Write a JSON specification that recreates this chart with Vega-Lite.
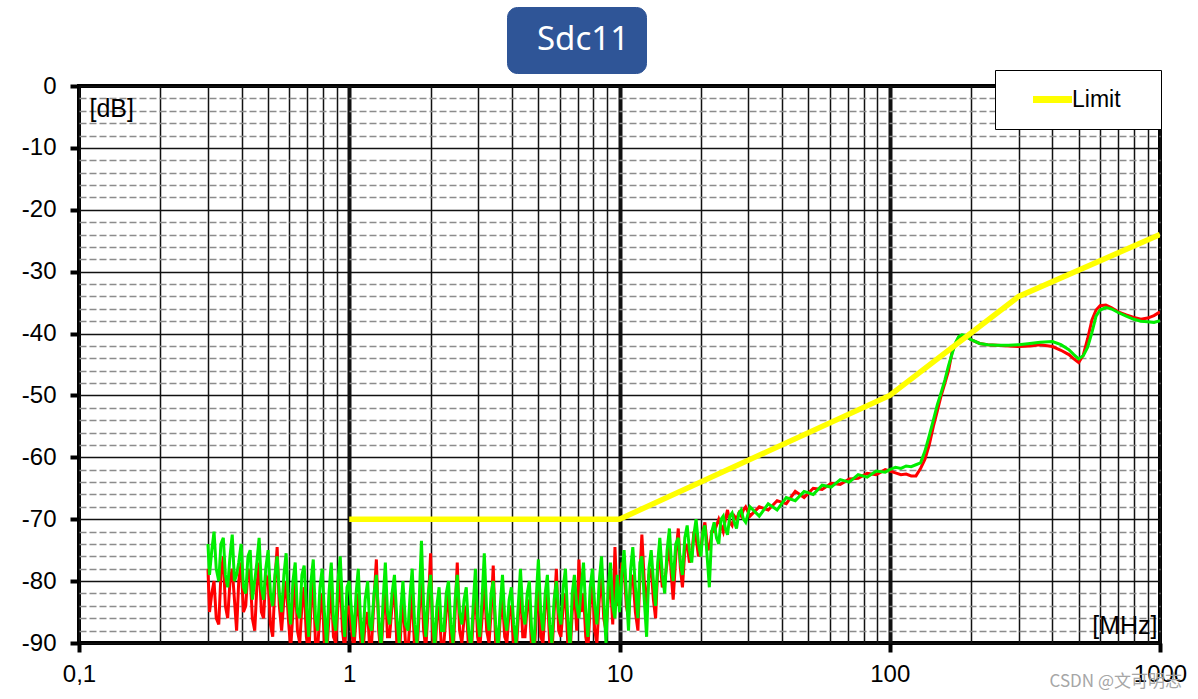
{
  "$schema": "https://vega.github.io/schema/vega-lite/v6.json",
  "width": 1081,
  "height": 557,
  "autosize": {"type": "none"},
  "padding": {"left": 79, "top": 86, "right": 38, "bottom": 56},
  "background": "white",
  "title": {
    "text": "CSDN @文可明志",
    "orient": "bottom",
    "anchor": "end",
    "frame": "group",
    "font": "Noto Sans CJK SC",
    "fontSize": 17,
    "fontWeight": "normal",
    "color": "#a6a6a6",
    "dx": 22,
    "offset": -12
  },
  "datasets": {
    "trace": [
      {"f": 0.3, "r": -78, "g": -74},
      {"f": 0.304, "r": -85, "g": -79},
      {"f": 0.31, "r": -82, "g": -75},
      {"f": 0.316, "r": -80, "g": -72},
      {"f": 0.322, "r": -86, "g": -78},
      {"f": 0.329, "r": -87, "g": -80},
      {"f": 0.335, "r": -79, "g": -74},
      {"f": 0.342, "r": -76, "g": -73},
      {"f": 0.348, "r": -84, "g": -79},
      {"f": 0.355, "r": -86, "g": -81},
      {"f": 0.362, "r": -80, "g": -76},
      {"f": 0.369, "r": -78, "g": -72.5},
      {"f": 0.376, "r": -83, "g": -80},
      {"f": 0.383, "r": -88, "g": -79},
      {"f": 0.39, "r": -80, "g": -77},
      {"f": 0.398, "r": -77, "g": -74},
      {"f": 0.406, "r": -85, "g": -81},
      {"f": 0.414, "r": -84, "g": -82},
      {"f": 0.422, "r": -78, "g": -76},
      {"f": 0.43, "r": -79, "g": -75},
      {"f": 0.438, "r": -86, "g": -83},
      {"f": 0.447, "r": -88, "g": -80},
      {"f": 0.455, "r": -81, "g": -77},
      {"f": 0.464, "r": -77, "g": -73},
      {"f": 0.473, "r": -85, "g": -81},
      {"f": 0.482, "r": -86, "g": -83},
      {"f": 0.491, "r": -79, "g": -78},
      {"f": 0.501, "r": -80, "g": -75},
      {"f": 0.511, "r": -87, "g": -82},
      {"f": 0.521, "r": -89, "g": -84},
      {"f": 0.531, "r": -80, "g": -79},
      {"f": 0.541, "r": -74.5, "g": -76},
      {"f": 0.551, "r": -84, "g": -82},
      {"f": 0.562, "r": -88, "g": -85},
      {"f": 0.573, "r": -83, "g": -79},
      {"f": 0.584, "r": -80, "g": -75.5},
      {"f": 0.595, "r": -86, "g": -83},
      {"f": 0.607, "r": -91, "g": -87},
      {"f": 0.619, "r": -85, "g": -80},
      {"f": 0.631, "r": -79, "g": -77},
      {"f": 0.643, "r": -88, "g": -85},
      {"f": 0.656, "r": -90, "g": -86},
      {"f": 0.668, "r": -84, "g": -79},
      {"f": 0.681, "r": -81, "g": -77.5},
      {"f": 0.694, "r": -89, "g": -84},
      {"f": 0.708, "r": -92, "g": -89},
      {"f": 0.722, "r": -84, "g": -80},
      {"f": 0.736, "r": -80, "g": -76.5},
      {"f": 0.75, "r": -90, "g": -86},
      {"f": 0.764, "r": -91, "g": -88},
      {"f": 0.779, "r": -85, "g": -81},
      {"f": 0.794, "r": -82, "g": -78},
      {"f": 0.809, "r": -90, "g": -85},
      {"f": 0.825, "r": -92, "g": -90.5},
      {"f": 0.841, "r": -86, "g": -82},
      {"f": 0.858, "r": -81, "g": -77},
      {"f": 0.874, "r": -89, "g": -86},
      {"f": 0.891, "r": -90, "g": -88},
      {"f": 0.908, "r": -84, "g": -80},
      {"f": 0.926, "r": -79, "g": -76},
      {"f": 0.944, "r": -88, "g": -84},
      {"f": 0.962, "r": -91, "g": -89},
      {"f": 0.981, "r": -85, "g": -81},
      {"f": 1.0, "r": -84, "g": -80},
      {"f": 1.02, "r": -88, "g": -85},
      {"f": 1.04, "r": -91, "g": -89},
      {"f": 1.06, "r": -86, "g": -82},
      {"f": 1.08, "r": -82, "g": -78},
      {"f": 1.1, "r": -89, "g": -86},
      {"f": 1.12, "r": -92, "g": -90},
      {"f": 1.145, "r": -87, "g": -83},
      {"f": 1.17, "r": -85, "g": -80},
      {"f": 1.19, "r": -91, "g": -87},
      {"f": 1.21, "r": -90, "g": -88},
      {"f": 1.235, "r": -83, "g": -82},
      {"f": 1.26, "r": -76.5, "g": -79},
      {"f": 1.285, "r": -88, "g": -86},
      {"f": 1.31, "r": -92, "g": -91},
      {"f": 1.335, "r": -86, "g": -83},
      {"f": 1.36, "r": -80, "g": -77},
      {"f": 1.385, "r": -89, "g": -85},
      {"f": 1.41, "r": -89, "g": -87},
      {"f": 1.44, "r": -84, "g": -82},
      {"f": 1.47, "r": -81, "g": -79},
      {"f": 1.5, "r": -90, "g": -86},
      {"f": 1.53, "r": -93, "g": -90},
      {"f": 1.555, "r": -87, "g": -84},
      {"f": 1.58, "r": -83, "g": -80},
      {"f": 1.615, "r": -90, "g": -87},
      {"f": 1.65, "r": -91, "g": -88},
      {"f": 1.68, "r": -86, "g": -82},
      {"f": 1.71, "r": -82, "g": -78},
      {"f": 1.745, "r": -91, "g": -87},
      {"f": 1.78, "r": -92, "g": -90},
      {"f": 1.815, "r": -85, "g": -83},
      {"f": 1.85, "r": -79, "g": -73.5},
      {"f": 1.885, "r": -88, "g": -84},
      {"f": 1.92, "r": -91, "g": -89},
      {"f": 1.96, "r": -84, "g": -82},
      {"f": 2.0, "r": -75.5, "g": -79},
      {"f": 2.035, "r": -89, "g": -86},
      {"f": 2.07, "r": -93, "g": -91},
      {"f": 2.11, "r": -86, "g": -84},
      {"f": 2.15, "r": -84, "g": -81},
      {"f": 2.195, "r": -91, "g": -88},
      {"f": 2.24, "r": -90, "g": -88},
      {"f": 2.285, "r": -85, "g": -82},
      {"f": 2.33, "r": -82, "g": -80},
      {"f": 2.375, "r": -90, "g": -87},
      {"f": 2.42, "r": -92, "g": -90},
      {"f": 2.465, "r": -85, "g": -83},
      {"f": 2.51, "r": -77, "g": -79},
      {"f": 2.56, "r": -88, "g": -85},
      {"f": 2.61, "r": -90, "g": -87},
      {"f": 2.66, "r": -86, "g": -83},
      {"f": 2.71, "r": -84, "g": -81},
      {"f": 2.765, "r": -91, "g": -88},
      {"f": 2.82, "r": -93, "g": -91},
      {"f": 2.875, "r": -86, "g": -84},
      {"f": 2.93, "r": -81, "g": -78},
      {"f": 2.985, "r": -89, "g": -86},
      {"f": 3.04, "r": -91, "g": -89},
      {"f": 3.1, "r": -86, "g": -83},
      {"f": 3.16, "r": -80, "g": -75.5},
      {"f": 3.225, "r": -88, "g": -85},
      {"f": 3.29, "r": -90, "g": -88},
      {"f": 3.35, "r": -85, "g": -82},
      {"f": 3.41, "r": -77.5, "g": -80},
      {"f": 3.48, "r": -90, "g": -87},
      {"f": 3.55, "r": -92, "g": -91},
      {"f": 3.62, "r": -86, "g": -84},
      {"f": 3.69, "r": -83, "g": -79},
      {"f": 3.76, "r": -89, "g": -86},
      {"f": 3.83, "r": -90, "g": -88},
      {"f": 3.905, "r": -85, "g": -83},
      {"f": 3.98, "r": -84, "g": -81},
      {"f": 4.06, "r": -91, "g": -87},
      {"f": 4.14, "r": -92, "g": -90},
      {"f": 4.22, "r": -86, "g": -84},
      {"f": 4.3, "r": -81, "g": -78},
      {"f": 4.385, "r": -89, "g": -85},
      {"f": 4.47, "r": -89, "g": -87},
      {"f": 4.555, "r": -84, "g": -82},
      {"f": 4.64, "r": -83, "g": -80},
      {"f": 4.73, "r": -91, "g": -88},
      {"f": 4.82, "r": -93, "g": -91},
      {"f": 4.915, "r": -86, "g": -83},
      {"f": 5.01, "r": -80, "g": -76.5},
      {"f": 5.11, "r": -89, "g": -85},
      {"f": 5.21, "r": -90, "g": -88},
      {"f": 5.31, "r": -84, "g": -82},
      {"f": 5.41, "r": -82, "g": -79},
      {"f": 5.515, "r": -90, "g": -87},
      {"f": 5.62, "r": -92, "g": -90},
      {"f": 5.73, "r": -85, "g": -83},
      {"f": 5.84, "r": -78, "g": -80},
      {"f": 5.955, "r": -88, "g": -85},
      {"f": 6.07, "r": -89, "g": -87},
      {"f": 6.19, "r": -84, "g": -81},
      {"f": 6.31, "r": -82, "g": -78},
      {"f": 6.435, "r": -90, "g": -86},
      {"f": 6.56, "r": -92, "g": -91},
      {"f": 6.685, "r": -85, "g": -82},
      {"f": 6.81, "r": -81, "g": -79},
      {"f": 6.945, "r": -88, "g": -84},
      {"f": 7.08, "r": -76.5, "g": -86},
      {"f": 7.22, "r": -85, "g": -81},
      {"f": 7.36, "r": -82, "g": -77},
      {"f": 7.5, "r": -89, "g": -85},
      {"f": 7.64, "r": -91, "g": -89},
      {"f": 7.79, "r": -84, "g": -81},
      {"f": 7.94, "r": -80, "g": -78},
      {"f": 8.095, "r": -88, "g": -84},
      {"f": 8.25, "r": -90, "g": -87},
      {"f": 8.415, "r": -83, "g": -80},
      {"f": 8.58, "r": -79, "g": -76},
      {"f": 8.745, "r": -86, "g": -83},
      {"f": 8.91, "r": -88, "g": -90},
      {"f": 9.085, "r": -83, "g": -81},
      {"f": 9.26, "r": -80, "g": -77},
      {"f": 9.44, "r": -87, "g": -84},
      {"f": 9.62, "r": -74.5, "g": -86},
      {"f": 9.81, "r": -84, "g": -79},
      {"f": 10.0, "r": -82, "g": -85},
      {"f": 10.2, "r": -77, "g": -79},
      {"f": 10.4, "r": -78, "g": -75},
      {"f": 10.6, "r": -84, "g": -82},
      {"f": 10.8, "r": -86, "g": -88},
      {"f": 11.0, "r": -80, "g": -78},
      {"f": 11.2, "r": -79, "g": -74.5},
      {"f": 11.45, "r": -85, "g": -81},
      {"f": 11.7, "r": -88, "g": -86},
      {"f": 11.9, "r": -79, "g": -77},
      {"f": 12.1, "r": -72.5, "g": -76},
      {"f": 12.35, "r": -80, "g": -83},
      {"f": 12.6, "r": -84, "g": -89},
      {"f": 12.85, "r": -79, "g": -78},
      {"f": 13.1, "r": -78, "g": -75},
      {"f": 13.35, "r": -83, "g": -80},
      {"f": 13.6, "r": -86, "g": -84},
      {"f": 13.85, "r": -78, "g": -77},
      {"f": 14.1, "r": -76, "g": -73},
      {"f": 14.4, "r": -81, "g": -79},
      {"f": 14.7, "r": -80, "g": -82},
      {"f": 15.0, "r": -77, "g": -75},
      {"f": 15.3, "r": -74, "g": -71.5},
      {"f": 15.55, "r": -79, "g": -77},
      {"f": 15.8, "r": -83, "g": -80},
      {"f": 16.15, "r": -76, "g": -74},
      {"f": 16.5, "r": -71.5, "g": -73},
      {"f": 16.8, "r": -78, "g": -77},
      {"f": 17.1, "r": -81, "g": -79},
      {"f": 17.45, "r": -75, "g": -73},
      {"f": 17.8, "r": -74, "g": -71},
      {"f": 18.15, "r": -77, "g": -75},
      {"f": 18.5, "r": -76, "g": -77},
      {"f": 18.85, "r": -72, "g": -72.5},
      {"f": 19.2, "r": -73, "g": -70},
      {"f": 19.6, "r": -76, "g": -74},
      {"f": 20.0, "r": -75, "g": -76},
      {"f": 20.35, "r": -72, "g": -72},
      {"f": 20.7, "r": -70.5, "g": -71},
      {"f": 21.1, "r": -74, "g": -76},
      {"f": 21.5, "r": -75, "g": -81},
      {"f": 21.95, "r": -72, "g": -72},
      {"f": 22.4, "r": -72, "g": -70.5},
      {"f": 22.85, "r": -71, "g": -73},
      {"f": 23.3, "r": -70, "g": -74},
      {"f": 23.75, "r": -71, "g": -70},
      {"f": 24.2, "r": -72, "g": -69.5},
      {"f": 24.65, "r": -70, "g": -71.5},
      {"f": 25.1, "r": -68.5, "g": -72.5},
      {"f": 25.6, "r": -70.5, "g": -69.5},
      {"f": 26.1, "r": -71, "g": -69},
      {"f": 26.6, "r": -69.5, "g": -70.5},
      {"f": 27.1, "r": -70, "g": -71.5},
      {"f": 27.65, "r": -69, "g": -69},
      {"f": 28.2, "r": -69.5, "g": -68.5},
      {"f": 28.75, "r": -68.5, "g": -70},
      {"f": 29.3, "r": -68, "g": -70.5},
      {"f": 30.4, "r": -69.5, "g": -68},
      {"f": 32.9, "r": -68, "g": -69.5},
      {"f": 35.5, "r": -68.5, "g": -67.5},
      {"f": 38.3, "r": -67, "g": -68.5},
      {"f": 41.4, "r": -67.5, "g": -66.5},
      {"f": 44.7, "r": -65.5, "g": -67},
      {"f": 48.2, "r": -66.5, "g": -65.5},
      {"f": 52.1, "r": -65, "g": -66},
      {"f": 56.2, "r": -65.2, "g": -64.5},
      {"f": 60.7, "r": -64.2, "g": -64.8},
      {"f": 65.6, "r": -64.4, "g": -63.6},
      {"f": 70.8, "r": -63.5, "g": -64},
      {"f": 76.4, "r": -63.4, "g": -62.8},
      {"f": 82.5, "r": -62.6, "g": -63.2},
      {"f": 89.1, "r": -62.8, "g": -62.2},
      {"f": 96.2, "r": -62, "g": -62.4},
      {"f": 100, "r": -62.2, "g": -62},
      {"f": 105, "r": -62.5, "g": -61.6},
      {"f": 110, "r": -62.8, "g": -61.8},
      {"f": 115, "r": -62.7, "g": -61.4},
      {"f": 120, "r": -63, "g": -61.5},
      {"f": 125, "r": -63, "g": -61.2},
      {"f": 130, "r": -61.8, "g": -60.9},
      {"f": 135, "r": -60.3, "g": -59},
      {"f": 140, "r": -58, "g": -56.5},
      {"f": 145, "r": -55, "g": -54},
      {"f": 150, "r": -52.5, "g": -51.5},
      {"f": 155, "r": -50, "g": -49.5},
      {"f": 160, "r": -48, "g": -47.5},
      {"f": 165, "r": -46, "g": -45.2},
      {"f": 170, "r": -43, "g": -43.3},
      {"f": 175, "r": -41.7, "g": -41.5},
      {"f": 180, "r": -40.6, "g": -40.5},
      {"f": 185, "r": -40.3, "g": -40.2},
      {"f": 190, "r": -40.4, "g": -40.3},
      {"f": 200, "r": -41, "g": -41},
      {"f": 215, "r": -41.6, "g": -41.6},
      {"f": 230, "r": -41.8, "g": -41.8},
      {"f": 250, "r": -41.9, "g": -41.9},
      {"f": 275, "r": -42, "g": -41.9},
      {"f": 300, "r": -42.1, "g": -41.8},
      {"f": 330, "r": -42, "g": -41.6},
      {"f": 360, "r": -41.8, "g": -41.4},
      {"f": 400, "r": -42.1, "g": -41.3},
      {"f": 430, "r": -42.7, "g": -41.8},
      {"f": 460, "r": -43.4, "g": -42.6},
      {"f": 480, "r": -44.1, "g": -43.4},
      {"f": 500, "r": -44.7, "g": -44.1},
      {"f": 520, "r": -43.5, "g": -43.6},
      {"f": 540, "r": -40.8, "g": -42.2},
      {"f": 560, "r": -37.8, "g": -39.8},
      {"f": 580, "r": -36.2, "g": -37.2},
      {"f": 600, "r": -35.5, "g": -36.2},
      {"f": 630, "r": -35.4, "g": -35.8},
      {"f": 660, "r": -35.8, "g": -36},
      {"f": 700, "r": -36.5, "g": -36.6},
      {"f": 750, "r": -37, "g": -37.2},
      {"f": 800, "r": -37.4, "g": -37.7},
      {"f": 850, "r": -37.7, "g": -38},
      {"f": 900, "r": -37.5, "g": -38.1},
      {"f": 950, "r": -37.1, "g": -38.2},
      {"f": 1000, "r": -36.5, "g": -37.9}
    ],
    "limit": [
      {"f": 1, "v": -70, "series": "Limit"},
      {"f": 10, "v": -70, "series": "Limit"},
      {"f": 100, "v": -50, "series": "Limit"},
      {"f": 300, "v": -34, "series": "Limit"},
      {"f": 1000, "v": -24, "series": "Limit"}
    ]
  },
  "layer": [
    {
      "data": {"name": "trace"},
      "mark": {"type": "line", "color": "#ff0000", "strokeWidth": 3, "clip": true},
      "encoding": {
        "x": {
          "field": "f",
          "type": "quantitative",
          "scale": {"type": "log", "domain": [0.1, 1000], "nice": false},
          "axis": {
            "values": [0.1, 0.2, 0.3, 0.4, 0.5, 0.6, 0.7, 0.8, 0.9, 1, 2, 3, 4, 5, 6, 7, 8, 9, 10, 20, 30, 40, 50, 60, 70, 80, 90, 100, 200, 300, 400, 500, 600, 700, 800, 900, 1000],
            "tickCount": 200,
            "domain": false,
            "grid": true,
            "gridColor": "#111111",
            "gridWidth": {"condition": {"test": "indexof([1,10,100], datum.value) >= 0", "value": 4}, "value": 1.5},
            "tickColor": "black",
            "tickWidth": 4,
            "tickSize": 9,
            "tickOpacity": {"condition": {"test": "indexof([0.1,1,10,100,1000], datum.value) >= 0", "value": 1}, "value": 0},
            "labelExpr": "indexof([0.1,1,10,100,1000], datum.value) < 0 ? '' : (datum.value < 1 ? '0,1' : toString(datum.value))",
            "labelFont": "Liberation Sans",
            "labelFontSize": 24,
            "labelColor": "black",
            "labelPadding": 10,
            "labelFlush": false,
            "labelOverlap": false,
            "labelBound": false,
            "title": "[MHz]",
            "titleFont": "Liberation Sans",
            "titleFontSize": 25,
            "titleFontWeight": "normal",
            "titleColor": "black",
            "titleAlign": "right",
            "titleBaseline": "bottom",
            "titleX": 1078,
            "titleY": -5
          }
        },
        "y": {
          "field": "r",
          "type": "quantitative",
          "scale": {"domain": [-90, 0], "nice": false, "zero": false},
          "axis": {
            "values": [-90, -88, -86, -84, -82, -80, -78, -76, -74, -72, -70, -68, -66, -64, -62, -60, -58, -56, -54, -52, -50, -48, -46, -44, -42, -40, -38, -36, -34, -32, -30, -28, -26, -24, -22, -20, -18, -16, -14, -12, -10, -8, -6, -4, -2, 0],
            "tickCount": 200,
            "domain": false,
            "grid": true,
            "gridColor": {"condition": {"test": "datum.value % 10 == 0", "value": "#111111"}, "value": "#8c8c8c"},
            "gridDash": {"condition": {"test": "datum.value % 10 == 0", "value": []}, "value": [7, 3]},
            "gridWidth": 1.5,
            "tickColor": "black",
            "tickWidth": 4,
            "tickSize": 9,
            "tickOpacity": {"condition": {"test": "datum.value % 10 == 0", "value": 1}, "value": 0},
            "labelExpr": "datum.value % 10 != 0 ? '' : (datum.value == 0 ? '0' : '-' + abs(datum.value))",
            "labelFont": "Liberation Sans",
            "labelFontSize": 24,
            "labelColor": "black",
            "labelPadding": 14,
            "labelFlush": false,
            "labelOverlap": false,
            "labelBound": false,
            "title": "[dB]",
            "titleFont": "Liberation Sans",
            "titleFontSize": 25,
            "titleFontWeight": "normal",
            "titleColor": "black",
            "titleAngle": 0,
            "titleAlign": "left",
            "titleBaseline": "top",
            "titleX": 10,
            "titleY": 10
          }
        }
      }
    },
    {
      "data": {"name": "trace"},
      "mark": {"type": "line", "color": "#00ee00", "strokeWidth": 3, "clip": true},
      "encoding": {
        "x": {"field": "f", "type": "quantitative", "scale": {"type": "log", "domain": [0.1, 1000], "nice": false}},
        "y": {"field": "g", "type": "quantitative", "scale": {"domain": [-90, 0], "nice": false, "zero": false}}
      }
    },
    {
      "data": {"name": "limit"},
      "mark": {"type": "line", "strokeWidth": 5.5, "clip": true},
      "encoding": {
        "x": {"field": "f", "type": "quantitative", "scale": {"type": "log", "domain": [0.1, 1000], "nice": false}},
        "y": {"field": "v", "type": "quantitative", "scale": {"domain": [-90, 0], "nice": false, "zero": false}},
        "color": {
          "field": "series",
          "type": "nominal",
          "scale": {"domain": ["Limit"], "range": ["#ffff00"]},
          "legend": {
            "orient": "none",
            "legendX": 916,
            "legendY": -16,
            "title": "\u00a0",
            "titleOrient": "right",
            "titlePadding": 30,
            "titleFontSize": 10,
            "fillColor": "white",
            "strokeColor": "black",
            "padding": 10,
            "clipHeight": 39,
            "symbolType": "M-1,0L1,0",
            "symbolSize": 19321,
            "symbolStrokeWidth": 7,
            "symbolDash": [0, 24.5, 39, 120],
            "symbolOffset": 0,
            "labelFont": "Liberation Sans",
            "labelFontSize": 23,
            "labelColor": "black",
            "labelOffset": -79
          }
        },
        "opacity": {
          "datum": "Sdc11",
          "type": "ordinal",
          "scale": {"range": [1, 1]},
          "legend": {
            "orient": "none",
            "legendX": 428,
            "legendY": -79,
            "title": null,
            "fillColor": "#2f5597",
            "strokeColor": "#2f5597",
            "cornerRadius": 10,
            "padding": 16,
            "clipHeight": 33,
            "symbolType": "stroke",
            "symbolSize": 14400,
            "symbolStrokeWidth": 0,
            "symbolStrokeColor": "#2f5597",
            "symbolOffset": 0,
            "labelOffset": -106,
            "labelFont": "Noto Sans",
            "labelFontSize": 33,
            "labelColor": "white"
          }
        }
      }
    }
  ],
  "config": {
    "view": {"stroke": "black", "strokeWidth": 4}
  }
}
